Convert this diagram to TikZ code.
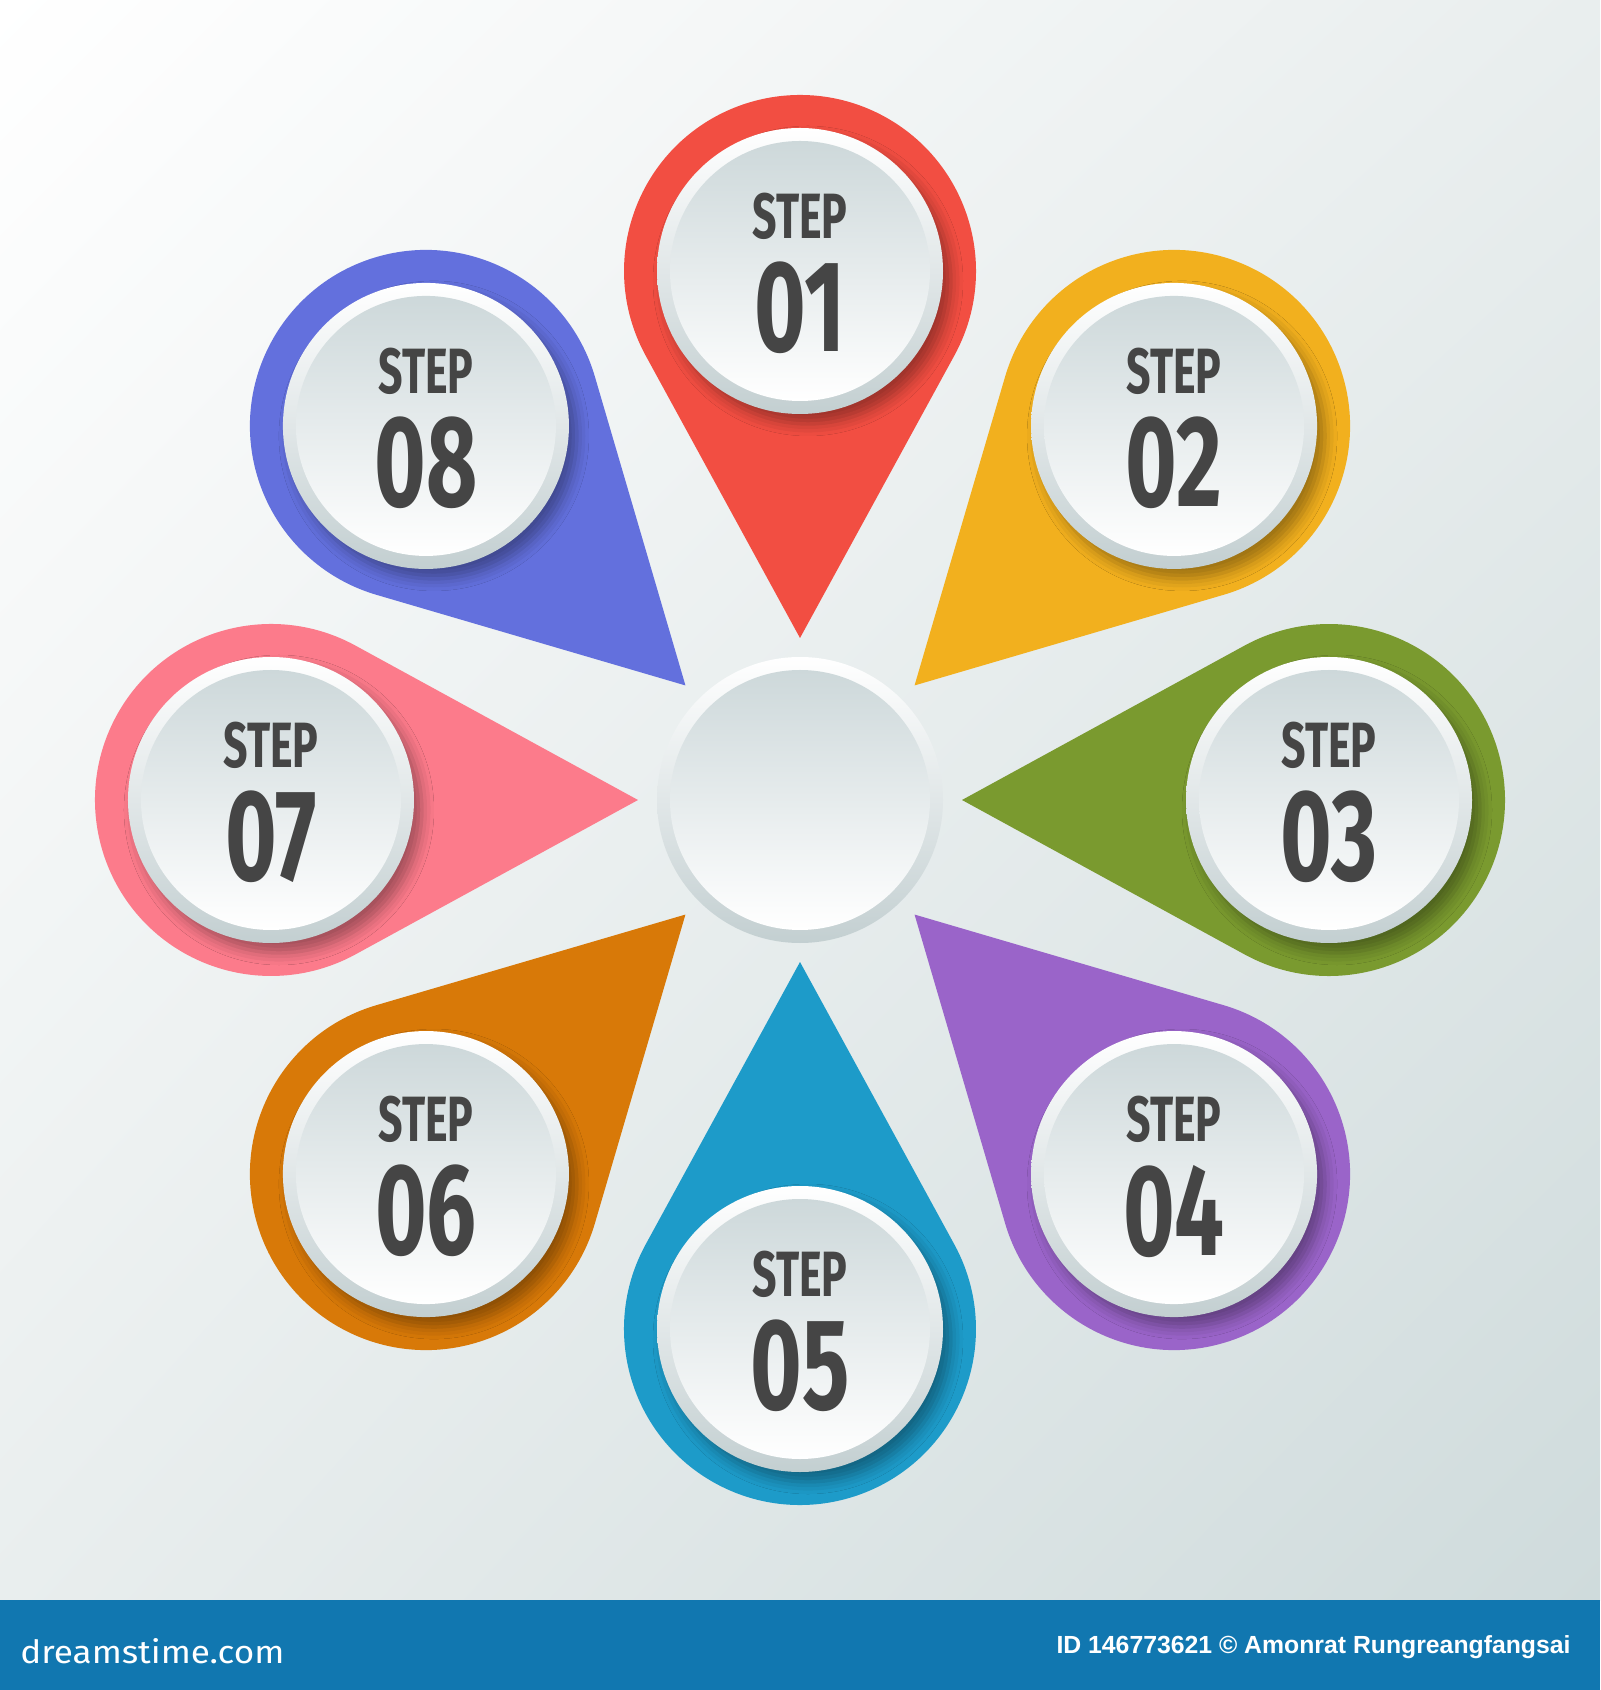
\documentclass[tikz,border=0pt]{standalone}
\usepackage{graphicx}
\usepackage{fontspec}
\setmainfont{Fira Sans}
\newfontfamily\credfont{Liberation Sans}
\usetikzlibrary{shadows.blur,shadings}
\definecolor{c1}{HTML}{F24E42}
\definecolor{c2}{HTML}{F2B01E}
\definecolor{c3}{HTML}{7A9A2F}
\definecolor{c4}{HTML}{9A64C9}
\definecolor{c5}{HTML}{1D9BC9}
\definecolor{c6}{HTML}{D87908}
\definecolor{c7}{HTML}{FC7B8B}
\definecolor{c8}{HTML}{6370DD}
\definecolor{ringgray}{HTML}{C3CFD1}
\definecolor{facetop}{HTML}{CDD8DA}
\definecolor{txtgray}{HTML}{454545}
\definecolor{bgmid}{HTML}{E9EEEE}
\definecolor{bgdark}{HTML}{CFDBDC}
\definecolor{bannerblue}{HTML}{1177B0}
\tikzset{
  ringdisc/.style={top color=white, bottom color=ringgray, draw=none},
  facedisc/.style={top color=facetop, bottom color=white, draw=none},
  btnshadow/.style={blur shadow={shadow xshift=4pt, shadow yshift=-5pt, shadow blur radius=6pt, shadow opacity=35}},
  steptxt/.style={font=\fontsize{32}{32}\selectfont\bfseries, text=txtgray, xscale=0.67, inner sep=0pt},
  numtxt/.style={font=\fontsize{65}{65}\selectfont\bfseries, text=txtgray, xscale=0.68, inner sep=0pt},
  bantxt/.style={text=white, inner sep=0pt}
}
\begin{document}
\begin{tikzpicture}[x=0.5pt,y=0.5pt]
\useasboundingbox (-800,-890) rectangle (800,800);
% background
\shade[upper left=white, upper right=bgmid, lower left=bgmid, lower right=bgdark] (-800,-800) rectangle (800,800);
\fill[bannerblue] (-800,-890) rectangle (800,-800);
% pins
\foreach \k/\col in {1/c1,2/c2,3/c3,4/c4,5/c5,6/c6,7/c7,8/c8}{
  \pgfmathsetmacro\ang{90-45*(\k-1)}
  \begin{scope}[shift={(\ang:529)}, rotate=\ang-90]
    \fill[\col] (0,-367) -- (-28.6:176) arc[start angle=-28.6, end angle=208.6, radius=176] -- cycle;
  \end{scope}
  \begin{scope}[shift={(\ang:529)}]
    \path[ringdisc, btnshadow] (0,0) circle[radius=143];
    \path[facedisc] (0,0) circle[radius=130];
    \node[steptxt] (s\k) at (0,55) {STEP};
    \node[numtxt] (n\k) at (0,-37) {0\k};
  \end{scope}
}
% centre disc
\path[ringdisc] (0,0) circle[radius=143];
\path[facedisc] (0,0) circle[radius=130];
% banner texts
\node[bantxt, anchor=base west] (logo) at (-780,-863) {\resizebox{132pt}{12.5pt}{\fontsize{20}{20}\selectfont dreamstime.com}};
\node[bantxt, anchor=base east] (credit) at (771,-853) {\resizebox{257pt}{!}{\credfont\bfseries ID 146773621 \textcopyright{} Amonrat Rungreangfangsai}};
\end{tikzpicture}
\end{document}
